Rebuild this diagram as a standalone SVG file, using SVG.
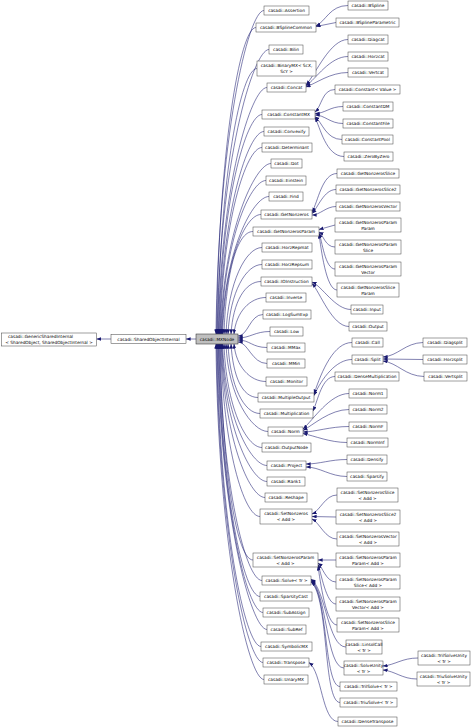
<svg xmlns="http://www.w3.org/2000/svg" width="474" height="727" viewBox="0 0 474 727">
<style>
.n rect{fill:#fff;stroke:#404040;stroke-width:0.5}
.cur rect{fill:#bfbfbf;stroke:#202020}
text{font-family:"DejaVu Sans",sans-serif;font-size:4.3px;text-anchor:middle;fill:#000}
.e path{fill:none;stroke:#191970;stroke-width:0.55;marker-end:url(#a)}
</style>
<defs>
<marker id="a" markerWidth="5" markerHeight="4" refX="4.6" refY="1.8" orient="auto" markerUnits="userSpaceOnUse"><path d="M0,0 L4.8,1.8 L0,3.6 z" fill="#191970"/></marker>
</defs>
<rect width="474" height="727" fill="#fff"/>
<g class="e" id="edges">
<path d="M196,339 L186,339"/>
<path d="M111,339 L96.5,339"/>
<path d="M264,10.5 C248,10.5 218,140 216,334"/>
<path d="M256,27.5 C240,27.5 218.6,150 216.6,334"/>
<path d="M269,49.5 C253,49.5 219.2,163 217.2,334"/>
<path d="M257,68.5 C241,68.5 219.8,175 217.8,334"/>
<path d="M267,87.5 C251,87.5 220.4,186 218.4,334"/>
<path d="M262,114.5 C246,114.5 221,202 219,334"/>
<path d="M264,131.5 C248,131.5 221.6,212 219.6,334"/>
<path d="M262,147.5 C246,147.5 222.2,222 220.2,334"/>
<path d="M271,163.5 C255,163.5 222.8,232 220.8,334"/>
<path d="M266,180.5 C250,180.5 223.4,242 221.4,334"/>
<path d="M269,196.5 C253,196.5 224,251 222,334"/>
<path d="M261,214.5 C245,214.5 224.6,262 222.6,334"/>
<path d="M253,231.5 C237,231.5 226,272 224,334"/>
<path d="M262,247.5 C246,247.5 228,282 226,334"/>
<path d="M262,264.5 C246,264.5 230,292 228,334"/>
<path d="M261,281.5 C245,281.5 233,302 231,334"/>
<path d="M266,297.5 C250,297.5 236,312 234,334"/>
<path d="M263,314.5 C250,314.5 248,336 238,336"/>
<path d="M270,331.5 C255,331.5 250,338 238,338"/>
<path d="M267,347.5 C252,347.5 250,340 238,340"/>
<path d="M267,363.5 C252,363.5 248,342 238,342"/>
<path d="M266,381.5 C250,381.5 236,366.5 234,344"/>
<path d="M258,397.5 C242,397.5 233,376 231,344"/>
<path d="M260,413.5 C244,413.5 230,386 228,344"/>
<path d="M268,431.5 C252,431.5 228,396.5 226,344"/>
<path d="M262,447.5 C246,447.5 226,406 224,344"/>
<path d="M267,465.5 C251,465.5 224.6,417 222.6,344"/>
<path d="M267,481.5 C251,481.5 224,426.5 222,344"/>
<path d="M265,497.5 C249,497.5 223.4,436 221.4,344"/>
<path d="M260,516.5 C244,516.5 222.8,447.5 220.8,344"/>
<path d="M253,560 C237,560 222.2,474 220.2,344"/>
<path d="M262,580.5 C246,580.5 221.6,486 219.6,344"/>
<path d="M260,596.5 C244,596.5 221,495.5 219,344"/>
<path d="M263,612.5 C247,612.5 220.4,505 218.4,344"/>
<path d="M267,629.5 C251,629.5 219.8,515 217.8,344"/>
<path d="M261,646.5 C245,646.5 219.2,525.5 217.2,344"/>
<path d="M263,662.5 C247,662.5 218.6,535 216.6,344"/>
<path d="M264,679.5 C248,679.5 218,545 216,344"/>
<path d="M348,5.5 C330,5.5 326,21 316,26"/>
<path d="M336,22.5 L316,26.5"/>
<path d="M348,39.5 C330,39.5 316,73.6 306,85"/>
<path d="M348,56.5 C330,56.5 316,78.6 306,86"/>
<path d="M348,72.5 C330,72.5 316,83.4 306,87"/>
<path d="M335,89.5 C322,89.5 322,106 315,112"/>
<path d="M343,106.5 C330,106.5 325,113.5 315,113.5"/>
<path d="M343,123.5 C330,123.5 325,115 315,115"/>
<path d="M342,139.5 C326,139.5 322,122 315,116.5"/>
<path d="M344,156.5 C326,156.5 320,127 315,117.5"/>
<path d="M337,173.5 C322,173.5 318,202 312,212"/>
<path d="M336,189.5 C324,189.5 318,207.5 312,213.5"/>
<path d="M336,206.5 C326,206.5 320,215 312,215"/>
<path d="M335,225 L319,229.5"/>
<path d="M335,247 C325,247 323,234 319,232"/>
<path d="M335,269 C325,269 322,240 319,233"/>
<path d="M337,290 C326,290 321,248 319,234"/>
<path d="M351,309.5 C335,309.5 322,286 312,282"/>
<path d="M349,326.5 C332,326.5 320,292 312,283.5"/>
<path d="M352,342.5 C334,342.5 322,370 314,394"/>
<path d="M352,359.5 C336,359.5 322,378 314,395.5"/>
<path d="M423,342.5 C405,343 398,356 383,357"/>
<path d="M423,359.5 L383,359"/>
<path d="M424,376.5 C405,376 398,363 383,361"/>
<path d="M335,376.5 C322,376.5 318,400 313,411"/>
<path d="M349,393.5 C330,393.5 313,420 303,429"/>
<path d="M349,409.5 C330,409.5 313,425 303,430.5"/>
<path d="M349,426.5 C330,426.5 315,432 303,432"/>
<path d="M347,442.5 C330,442.5 315,436 303,433.5"/>
<path d="M347,459.5 C330,459.5 320,464 306,464"/>
<path d="M347,476.5 C330,476.5 320,467 306,467"/>
<path d="M337,495 C325,495 320,511 312,514"/>
<path d="M336,517 L312,516.5"/>
<path d="M337,539 C325,539 320,523 312,519"/>
<path d="M336,560 L318,560"/>
<path d="M336,582 C326,582 322,566 318,563"/>
<path d="M336,604 C326,604 321,572 318,564.5"/>
<path d="M337,625 C326,625 320,580 318,566"/>
<path d="M346,647 C328,647 326,590 311,579"/>
<path d="M344,668 C326,668 327,592 311,580"/>
<path d="M340,686.5 C324,686.5 328,594 311,581"/>
<path d="M340,702.5 C323,702.5 329,596 311,582"/>
<path d="M418,658 C402,658 395,665 383,666"/>
<path d="M417,679 C402,679 395,671 383,670"/>
<path d="M338,721.5 C322,721.5 322,672 309,662.5"/>
</g>
<g id="GenericSharedInternal" class="n"><rect x="1.5" y="333" width="95" height="13"/><text x="8" y="338.2" style="text-anchor:start">casadi::GenericSharedInternal</text><text x="49" y="344">&lt; SharedObject, SharedObjectInternal &gt;</text></g>
<g id="SharedObjectInternal" class="n"><rect x="111" y="334.5" width="75" height="9"/><text x="148.5" y="340.6">casadi::SharedObjectInternal</text></g>
<g id="MXNode" class="n cur"><rect x="196" y="334" width="42" height="10"/><text x="217" y="340.6">casadi::MXNode</text></g>
<g id="Assertion" class="n"><rect x="264" y="6" width="45" height="9"/><text x="286.5" y="12.1">casadi::Assertion</text></g>
<g id="BSplineCommon" class="n"><rect x="256" y="23" width="60" height="9"/><text x="286" y="29.1">casadi::BSplineCommon</text></g>
<g id="Bilin" class="n"><rect x="269" y="45" width="34" height="9"/><text x="286" y="51.1">casadi::Bilin</text></g>
<g id="BinaryMX" class="n"><rect x="257" y="61" width="59" height="15"/><text x="286.5" y="67.1">casadi::BinaryMX&lt; ScX,</text><text x="286.5" y="72.6">ScY &gt;</text></g>
<g id="Concat" class="n"><rect x="267" y="83" width="39" height="9"/><text x="286.5" y="89.1">casadi::Concat</text></g>
<g id="ConstantMX" class="n"><rect x="262" y="110" width="53" height="9"/><text x="288.5" y="116.1">casadi::ConstantMX</text></g>
<g id="Convexify" class="n"><rect x="264" y="127" width="45" height="9"/><text x="286.5" y="133.1">casadi::Convexify</text></g>
<g id="Determinant" class="n"><rect x="262" y="143" width="50" height="9"/><text x="287" y="149.1">casadi::Determinant</text></g>
<g id="Dot" class="n"><rect x="271" y="159" width="31" height="9"/><text x="286.5" y="165.1">casadi::Dot</text></g>
<g id="Einstein" class="n"><rect x="266" y="176" width="40" height="9"/><text x="286" y="182.1">casadi::Einstein</text></g>
<g id="Find" class="n"><rect x="269" y="192" width="34" height="9"/><text x="286" y="198.1">casadi::Find</text></g>
<g id="GetNonzeros" class="n"><rect x="261" y="210" width="51" height="9"/><text x="286.5" y="216.1">casadi::GetNonzeros</text></g>
<g id="GetNonzerosParam" class="n"><rect x="253" y="227" width="66" height="9"/><text x="286" y="233.1">casadi::GetNonzerosParam</text></g>
<g id="HorzRepmat" class="n"><rect x="262" y="243" width="50" height="9"/><text x="287" y="249.1">casadi::HorzRepmat</text></g>
<g id="HorzRepsum" class="n"><rect x="262" y="260" width="50" height="9"/><text x="287" y="266.1">casadi::HorzRepsum</text></g>
<g id="IOInstruction" class="n"><rect x="261" y="277" width="51" height="9"/><text x="286.5" y="283.1">casadi::IOInstruction</text></g>
<g id="Inverse" class="n"><rect x="266" y="293" width="40" height="9"/><text x="286" y="299.1">casadi::Inverse</text></g>
<g id="LogSumExp" class="n"><rect x="263" y="310" width="48" height="9"/><text x="287" y="316.1">casadi::LogSumExp</text></g>
<g id="Low" class="n"><rect x="270" y="327" width="33" height="9"/><text x="286.5" y="333.1">casadi::Low</text></g>
<g id="MMax" class="n"><rect x="267" y="343" width="38" height="9"/><text x="286" y="349.1">casadi::MMax</text></g>
<g id="MMin" class="n"><rect x="267" y="359" width="38" height="9"/><text x="286" y="365.1">casadi::MMin</text></g>
<g id="Monitor" class="n"><rect x="266" y="377" width="41" height="9"/><text x="286.5" y="383.1">casadi::Monitor</text></g>
<g id="MultipleOutput" class="n"><rect x="258" y="393" width="56" height="9"/><text x="286" y="399.1">casadi::MultipleOutput</text></g>
<g id="Multiplication" class="n"><rect x="260" y="409" width="53" height="9"/><text x="286.5" y="415.1">casadi::Multiplication</text></g>
<g id="Norm" class="n"><rect x="268" y="427" width="35" height="9"/><text x="285.5" y="433.1">casadi::Norm</text></g>
<g id="OutputNode" class="n"><rect x="262" y="443" width="49" height="9"/><text x="286.5" y="449.1">casadi::OutputNode</text></g>
<g id="Project" class="n"><rect x="267" y="461" width="39" height="9"/><text x="286.5" y="467.1">casadi::Project</text></g>
<g id="Rank1" class="n"><rect x="267" y="477" width="38" height="9"/><text x="286" y="483.1">casadi::Rank1</text></g>
<g id="Reshape" class="n"><rect x="265" y="493" width="42" height="9"/><text x="286" y="499.1">casadi::Reshape</text></g>
<g id="SetNonzeros" class="n"><rect x="260" y="509" width="52" height="15"/><text x="286" y="515.1">casadi::SetNonzeros</text><text x="286" y="520.6">&lt; Add &gt;</text></g>
<g id="SetNonzerosParam" class="n"><rect x="253" y="553" width="65" height="14"/><text x="285.5" y="559">casadi::SetNonzerosParam</text><text x="285.5" y="564.5">&lt; Add &gt;</text></g>
<g id="Solve" class="n"><rect x="262" y="576" width="49" height="9"/><text x="286.5" y="582.1">casadi::Solve&lt; Tr &gt;</text></g>
<g id="SparsityCast" class="n"><rect x="260" y="592" width="52" height="9"/><text x="286" y="598.1">casadi::SparsityCast</text></g>
<g id="SubAssign" class="n"><rect x="263" y="608" width="46" height="9"/><text x="286" y="614.1">casadi::SubAssign</text></g>
<g id="SubRef" class="n"><rect x="267" y="625" width="39" height="9"/><text x="286.5" y="631.1">casadi::SubRef</text></g>
<g id="SymbolicMX" class="n"><rect x="261" y="642" width="51" height="9"/><text x="286.5" y="648.1">casadi::SymbolicMX</text></g>
<g id="Transpose" class="n"><rect x="263" y="658" width="46" height="9"/><text x="286" y="664.1">casadi::Transpose</text></g>
<g id="UnaryMX" class="n"><rect x="264" y="675" width="44" height="9"/><text x="286" y="681.1">casadi::UnaryMX</text></g>
<g id="BSpline" class="n"><rect x="348" y="1" width="40" height="9"/><text x="368" y="7.1">casadi::BSpline</text></g>
<g id="BSplineParametric" class="n"><rect x="336" y="18" width="63" height="9"/><text x="367.5" y="24.1">casadi::BSplineParametric</text></g>
<g id="Diagcat" class="n"><rect x="348" y="35" width="40" height="9"/><text x="368" y="41.1">casadi::Diagcat</text></g>
<g id="Horzcat" class="n"><rect x="348" y="52" width="40" height="9"/><text x="368" y="58.1">casadi::Horzcat</text></g>
<g id="Vertcat" class="n"><rect x="348" y="68" width="40" height="9"/><text x="368" y="74.1">casadi::Vertcat</text></g>
<g id="ConstantValue" class="n"><rect x="335" y="85" width="65" height="9"/><text x="367.5" y="91.1">casadi::Constant&lt; Value &gt;</text></g>
<g id="ConstantDM" class="n"><rect x="343" y="102" width="50" height="9"/><text x="368" y="108.1">casadi::ConstantDM</text></g>
<g id="ConstantFile" class="n"><rect x="343" y="119" width="50" height="9"/><text x="368" y="125.1">casadi::ConstantFile</text></g>
<g id="ConstantPool" class="n"><rect x="342" y="135" width="51" height="9"/><text x="367.5" y="141.1">casadi::ConstantPool</text></g>
<g id="ZeroByZero" class="n"><rect x="344" y="152" width="49" height="9"/><text x="368.5" y="158.1">casadi::ZeroByZero</text></g>
<g id="GetNonzerosSlice" class="n"><rect x="337" y="169" width="62" height="9"/><text x="368" y="175.1">casadi::GetNonzerosSlice</text></g>
<g id="GetNonzerosSlice2" class="n"><rect x="336" y="185" width="64" height="9"/><text x="368" y="191.1">casadi::GetNonzerosSlice2</text></g>
<g id="GetNonzerosVector" class="n"><rect x="336" y="202" width="64" height="9"/><text x="368" y="208.1">casadi::GetNonzerosVector</text></g>
<g id="GetNonzerosParamParam" class="n"><rect x="335" y="218" width="66" height="14"/><text x="368" y="224">casadi::GetNonzerosParam</text><text x="368" y="229.5">Param</text></g>
<g id="GetNonzerosParamSlice" class="n"><rect x="335" y="240" width="66" height="14"/><text x="368" y="246">casadi::GetNonzerosParam</text><text x="368" y="251.5">Slice</text></g>
<g id="GetNonzerosParamVector" class="n"><rect x="335" y="262" width="66" height="14"/><text x="368" y="268">casadi::GetNonzerosParam</text><text x="368" y="273.5">Vector</text></g>
<g id="GetNonzerosSliceParam" class="n"><rect x="337" y="283" width="62" height="14"/><text x="368" y="289">casadi::GetNonzerosSlice</text><text x="368" y="294.5">Param</text></g>
<g id="Input" class="n"><rect x="351" y="305" width="32" height="9"/><text x="367" y="311.1">casadi::Input</text></g>
<g id="Output" class="n"><rect x="349" y="322" width="38" height="9"/><text x="368" y="328.1">casadi::Output</text></g>
<g id="Call" class="n"><rect x="352" y="338" width="31" height="9"/><text x="367.5" y="344.1">casadi::Call</text></g>
<g id="Split" class="n"><rect x="352" y="355" width="31" height="9"/><text x="367.5" y="361.1">casadi::Split</text></g>
<g id="DenseMultiplication" class="n"><rect x="335" y="372" width="64" height="9"/><text x="367" y="378.1">casadi::DenseMultiplication</text></g>
<g id="Norm1" class="n"><rect x="349" y="389" width="38" height="9"/><text x="368" y="395.1">casadi::Norm1</text></g>
<g id="Norm2" class="n"><rect x="349" y="405" width="38" height="9"/><text x="368" y="411.1">casadi::Norm2</text></g>
<g id="NormF" class="n"><rect x="349" y="422" width="38" height="9"/><text x="368" y="428.1">casadi::NormF</text></g>
<g id="NormInf" class="n"><rect x="347" y="438" width="41" height="9"/><text x="367.5" y="444.1">casadi::NormInf</text></g>
<g id="Densify" class="n"><rect x="347" y="455" width="40" height="9"/><text x="367" y="461.1">casadi::Densify</text></g>
<g id="Sparsify" class="n"><rect x="347" y="472" width="40" height="9"/><text x="367" y="478.1">casadi::Sparsify</text></g>
<g id="SetNonzerosSlice" class="n"><rect x="337" y="488" width="61" height="14"/><text x="367.5" y="494">casadi::SetNonzerosSlice</text><text x="367.5" y="499.5">&lt; Add &gt;</text></g>
<g id="SetNonzerosSlice2" class="n"><rect x="336" y="510" width="64" height="14"/><text x="368" y="516">casadi::SetNonzerosSlice2</text><text x="368" y="521.5">&lt; Add &gt;</text></g>
<g id="SetNonzerosVector" class="n"><rect x="337" y="532" width="62" height="14"/><text x="368" y="538">casadi::SetNonzerosVector</text><text x="368" y="543.5">&lt; Add &gt;</text></g>
<g id="SetNonzerosParamParam" class="n"><rect x="336" y="553" width="64" height="14"/><text x="368" y="559">casadi::SetNonzerosParam</text><text x="368" y="564.5">Param&lt; Add &gt;</text></g>
<g id="SetNonzerosParamSlice" class="n"><rect x="336" y="575" width="64" height="14"/><text x="368" y="581">casadi::SetNonzerosParam</text><text x="368" y="586.5">Slice&lt; Add &gt;</text></g>
<g id="SetNonzerosParamVector" class="n"><rect x="336" y="597" width="64" height="14"/><text x="368" y="603">casadi::SetNonzerosParam</text><text x="368" y="608.5">Vector&lt; Add &gt;</text></g>
<g id="SetNonzerosSliceParam" class="n"><rect x="337" y="618" width="62" height="14"/><text x="368" y="624">casadi::SetNonzerosSlice</text><text x="368" y="629.5">Param&lt; Add &gt;</text></g>
<g id="LinsolCall" class="n"><rect x="346" y="640" width="36" height="14"/><text x="364" y="646">casadi::LinsolCall</text><text x="364" y="651.5">&lt; Tr &gt;</text></g>
<g id="SolveUnity" class="n"><rect x="344" y="661" width="39" height="14"/><text x="363.5" y="667">casadi::SolveUnity</text><text x="363.5" y="672.5">&lt; Tr &gt;</text></g>
<g id="TrilSolve" class="n"><rect x="340" y="682" width="57" height="9"/><text x="368.5" y="688.1">casadi::TrilSolve&lt; Tr &gt;</text></g>
<g id="TriuSolve" class="n"><rect x="340" y="698" width="57" height="9"/><text x="368.5" y="704.1">casadi::TriuSolve&lt; Tr &gt;</text></g>
<g id="DenseTranspose" class="n"><rect x="338" y="717" width="59" height="9"/><text x="367.5" y="723.1">casadi::DenseTranspose</text></g>
<g id="Diagsplit" class="n"><rect x="423" y="338" width="44" height="9"/><text x="445" y="344.1">casadi::Diagsplit</text></g>
<g id="Horzsplit" class="n"><rect x="423" y="355" width="44" height="9"/><text x="445" y="361.1">casadi::Horzsplit</text></g>
<g id="Vertsplit" class="n"><rect x="424" y="372" width="43" height="9"/><text x="445.5" y="378.1">casadi::Vertsplit</text></g>
<g id="TrilSolveUnity" class="n"><rect x="418" y="651" width="52" height="14"/><text x="444" y="657">casadi::TrilSolveUnity</text><text x="444" y="662.5">&lt; Tr &gt;</text></g>
<g id="TriuSolveUnity" class="n"><rect x="417" y="672" width="53" height="14"/><text x="443.5" y="678">casadi::TriuSolveUnity</text><text x="443.5" y="683.5">&lt; Tr &gt;</text></g>
</svg>
